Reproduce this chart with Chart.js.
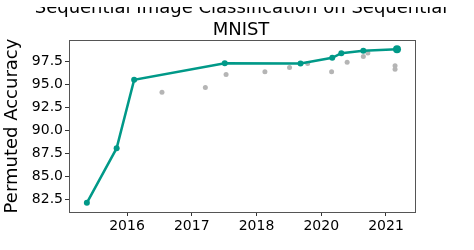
<!DOCTYPE html>
<html>
<head>
<meta charset="utf-8">
<script src="https://cdn.jsdelivr.net/npm/chart.js@4.4.0/dist/chart.umd.min.js"></script>
<style>
  body { margin: 0; background: #fff; overflow: hidden; }
  #wrap { position: relative; width: 474px; height: 250px; overflow: hidden; }
  canvas { display: block; margin-top: -3px; }
  #topClip { position: absolute; left: 0; top: 0; width: 474px; height: 7px; background: #fff; }
</style>
</head>
<body>
<div id="wrap">
<canvas id="sotaChart" width="474" height="253"></canvas>
<div id="topClip"></div>
</div>
<script>
// state-of-the-art line (teal) and the other results (grey dots)
const sotaX = [2015.38, 2015.84, 2016.11, 2017.51, 2018.68, 2019.17, 2019.31, 2019.65, 2020.17];
const sotaY = [82.1, 88.04, 95.47, 97.28, 97.25, 97.86, 98.37, 98.62, 98.8];

const otherX = [2016.54, 2017.21, 2017.53, 2018.13, 2018.51, 2018.79, 2019.16, 2019.40, 2019.65, 2019.72, 2020.14, 2020.14];
const otherY = [94.13, 94.64, 96.05, 96.34, 96.82, 97.25, 96.34, 97.39, 98.01, 98.40, 96.99, 96.63];

// the axis labels are spaced evenly, as in the original
const xTickPositions = [2016, 2017, 2018, 2019, 2020];
const xTickLabels = ['2016', '2017', '2018', '2020', '2021'];

const titleLines = ['Sequential Image Classification on Sequential', 'MNIST'];
const yTitle = 'Permuted Accuracy';

const FONT = "'DejaVu Sans', sans-serif";

// box around the plot area
const boxPlugin = {
    id: 'box',
    afterDraw(chart) {
        const a = chart.chartArea;
        const ctx = chart.ctx;
        ctx.save();
        ctx.strokeStyle = '#555';
        ctx.lineWidth = 1;
        ctx.strokeRect(Math.round(a.left) + 0.5, Math.round(a.top) + 0.5,
            Math.round(a.right - a.left), Math.round(a.bottom - a.top));
        ctx.restore();
    }
};

(function () {
    "use strict";
    const ctx = document.getElementById('sotaChart').getContext('2d');

    new Chart(ctx, {
        type: 'scatter',
        data: {
            datasets: [
                {
                    label: 'SOTA',
                    data: sotaX.map((x, i) => ({ x: x, y: sotaY[i] })),
                    showLine: true,
                    borderColor: '#009988',
                    backgroundColor: '#009988',
                    borderWidth: 2.5,
                    pointRadius: sotaX.map((x, i) => i === sotaX.length - 1 ? 4 : 3),
                    pointBorderWidth: 0,
                    order: 0
                },
                {
                    label: 'Other',
                    data: otherX.map((x, i) => ({ x: x, y: otherY[i] })),
                    backgroundColor: '#b5b5b5',
                    borderWidth: 0,
                    pointRadius: 2.5,
                    order: 1
                }
            ]
        },
        options: {
            responsive: false,
            animation: false,
            layout: {
                padding: { left: 8, right: 0, top: 0, bottom: 0 }
            },
            plugins: {
                legend: { display: false },
                tooltip: { enabled: false },
                title: {
                    display: true,
                    text: titleLines,
                    color: '#000',
                    font: { family: FONT, size: 18, weight: 'normal', lineHeight: '22px' },
                    padding: { top: 0, bottom: -1 }
                }
            },
            scales: {
                x: {
                    type: 'linear',
                    min: 2015.104,
                    max: 2020.448,
                    afterBuildTicks: (scale) => {
                        scale.ticks = xTickPositions.map(v => ({ value: v }));
                    },
                    afterFit: (scale) => { scale.height = 38; },
                    grid: { display: true, drawOnChartArea: false, drawTicks: true, tickLength: 4, color: '#333' },
                    border: { display: false },
                    ticks: {
                        color: '#000',
                        padding: 2,
                        maxRotation: 0,
                        font: { family: FONT, size: 14 },
                        callback: (value, index) => xTickLabels[index]
                    }
                },
                y: {
                    min: 81.1,
                    max: 99.8,
                    afterFit: (scale) => { scale.width = 61; },
                    grid: { display: true, drawOnChartArea: false, drawTicks: true, tickLength: 4, color: '#333' },
                    border: { display: false },
                    title: {
                        display: true,
                        text: yTitle,
                        color: '#000',
                        font: { family: FONT, size: 18 },
                        padding: { top: -6, bottom: 0 }
                    },
                    ticks: {
                        stepSize: 2.5,
                        includeBounds: false,
                        color: '#000',
                        padding: 2,
                        font: { family: FONT, size: 14 },
                        callback: (value) => value.toFixed(1)
                    }
                },
                // empty right margin so the title centres over the plot
                yRight: {
                    position: 'right',
                    afterFit: (scale) => { scale.width = 59; },
                    grid: { display: false },
                    border: { display: false },
                    ticks: { display: false }
                }
            }
        },
        plugins: [boxPlugin]
    });
})();
</script>
</body>
</html>
